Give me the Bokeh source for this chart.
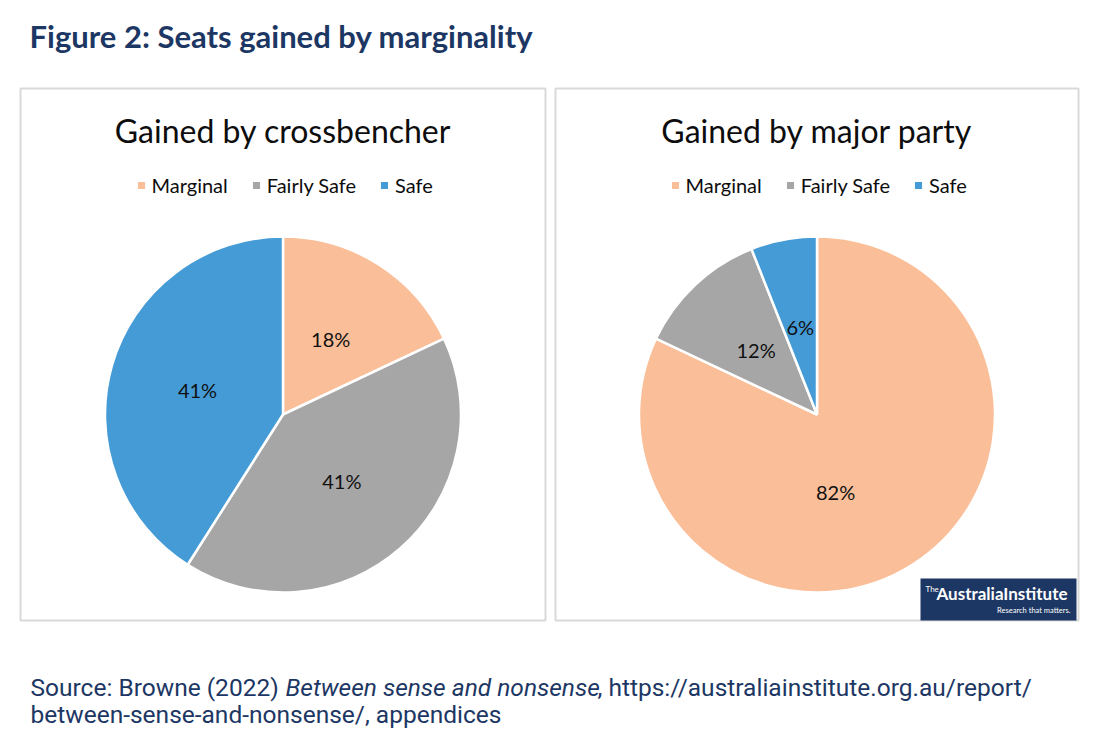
import math
from bokeh.plotting import figure
from bokeh.models import Range1d, Legend, LegendItem, ColumnDataSource
from bokeh.core.properties import value
from bokeh.embed import file_html
from bokeh.resources import INLINE

# ---------------- data ----------------
categories = ["Marginal", "Fairly Safe", "Safe"]
crossbencher_share = [18, 41, 41]
major_party_share = [82, 12, 6]
panel_titles = ["Gained by crossbencher", "Gained by major party"]
figure_title = "Figure 2: Seats gained by marginality"
source_line1 = ["Source: Browne (2022) ", "Between sense and nonsense", ", https://australiainstitute.org.au/report/"]
source_line2 = "between-sense-and-nonsense/, appendices"

# ---------------- style ----------------
colors = ["#FABE98", "#A6A6A6", "#449BD6"]
navy = "#1D3764"
W, H = 1102, 752


def Y(v):
    return H - v


p = figure(width=W, height=H, x_range=Range1d(0, W), y_range=Range1d(0, H),
           output_backend="svg", toolbar_location=None,
           x_axis_type=None, y_axis_type=None, min_border=0)
p.grid.visible = False
p.outline_line_color = None
p.background_fill_color = "white"
p.border_fill_color = "white"

# figure title
p.text(x=[29], y=[Y(35)], text=[figure_title], text_font=value("Lato"),
       text_font_style="bold", text_font_size="31px", text_color=navy,
       text_baseline="middle", text_align="left")

panels = [(20, 545), (555, 1078)]
panel_top, panel_bottom = 88, 620
shares_all = [crossbencher_share, major_party_share]
label_nudge = [[0, 0, 0], [19, 0, 0]]
label_rfrac = [[0.5, 0.5, 0.5], [0.45, 0.5, 0.5]]

for k, (l, r) in enumerate(panels):
    p.quad(left=[l], right=[r], top=[Y(panel_top)], bottom=[Y(panel_bottom)],
           fill_color=None, line_color="#D9D9D9", line_width=2)
    cx = (l + r) / 2
    cy = Y(414)
    R = 178
    shares = shares_all[k]
    total = sum(shares)
    starts, ends, lx, ly, labs = [], [], [], [], []
    c = 0.0
    for i, s in enumerate(shares):
        c0 = c / total
        c1 = (c + s) / total
        c += s
        starts.append(math.pi / 2 - 2 * math.pi * c0)
        ends.append(math.pi / 2 - 2 * math.pi * c1)
        mid = math.pi / 2 - 2 * math.pi * (c0 + c1) / 2 - math.radians(label_nudge[k][i])
        rl = R * label_rfrac[k][i]
        lx.append(cx + rl * math.cos(mid))
        ly.append(cy + rl * math.sin(mid))
        labs.append(f"{s}%")
    src = ColumnDataSource(dict(start=starts, end=ends, color=colors, label=categories))
    wr = p.wedge(x=cx, y=cy, radius=R, start_angle="start", end_angle="end",
                 direction="clock", fill_color="color", line_color="white",
                 line_width=2.5, source=src)
    p.text(x=lx, y=ly, text=labs, text_font=value("Lato"), text_font_size="20px",
           text_color="#111111", text_align="center", text_baseline="middle")
    # panel title
    p.text(x=[cx], y=[Y(130)], text=[panel_titles[k]], text_font=value("Lato"),
           text_font_size="32px", text_color="#0D0D0D", text_align="center",
           text_baseline="middle")
    # legend
    items = [LegendItem(label=cat, renderers=[wr], index=i) for i, cat in enumerate(categories)]
    leg = Legend(items=items, orientation="horizontal", location=(cx - 148, Y(187) - 10),
                 glyph_width=12, glyph_height=12, label_standoff=5, spacing=22,
                 padding=0, margin=0, border_line_color=None, background_fill_alpha=0,
                 label_text_font="Lato", label_text_font_size="20px",
                 label_text_color="#0D0D0D", label_height=20, label_text_baseline="middle")
    p.add_layout(leg, "center")

# logo
p.quad(left=[920], right=[1076], top=[Y(578)], bottom=[Y(620)], fill_color=navy,
       line_color=None)
p.text(x=[925], y=[Y(588)], text=["The"], text_font=value("Lato"), text_font_size="8px",
       text_color="white", text_baseline="middle")
p.text(x=[936], y=[Y(593)], text=["AustraliaInstitute"], text_font=value("Lato"),
       text_font_style="bold", text_font_size="17px", text_color="white",
       text_baseline="middle")
p.text(x=[1070], y=[Y(610)], text=["Research that matters."], text_font=value("Lato"),
       text_font_size="7.5px", text_color="white", text_align="right",
       text_baseline="middle")

# source
src_x = [30, 285, 597]
for i, seg in enumerate(source_line1):
    p.text(x=[src_x[i]], y=[Y(687)], text=[seg], text_font=value("Roboto"),
           text_font_size="24.5px", text_color=navy, text_baseline="middle",
           text_font_style="italic" if i == 1 else "normal")
p.text(x=[30], y=[Y(714)], text=[source_line2], text_font=value("Roboto"),
       text_font_size="24.5px", text_color=navy, text_baseline="middle")

open("out.html", "w").write(file_html(p, INLINE))
